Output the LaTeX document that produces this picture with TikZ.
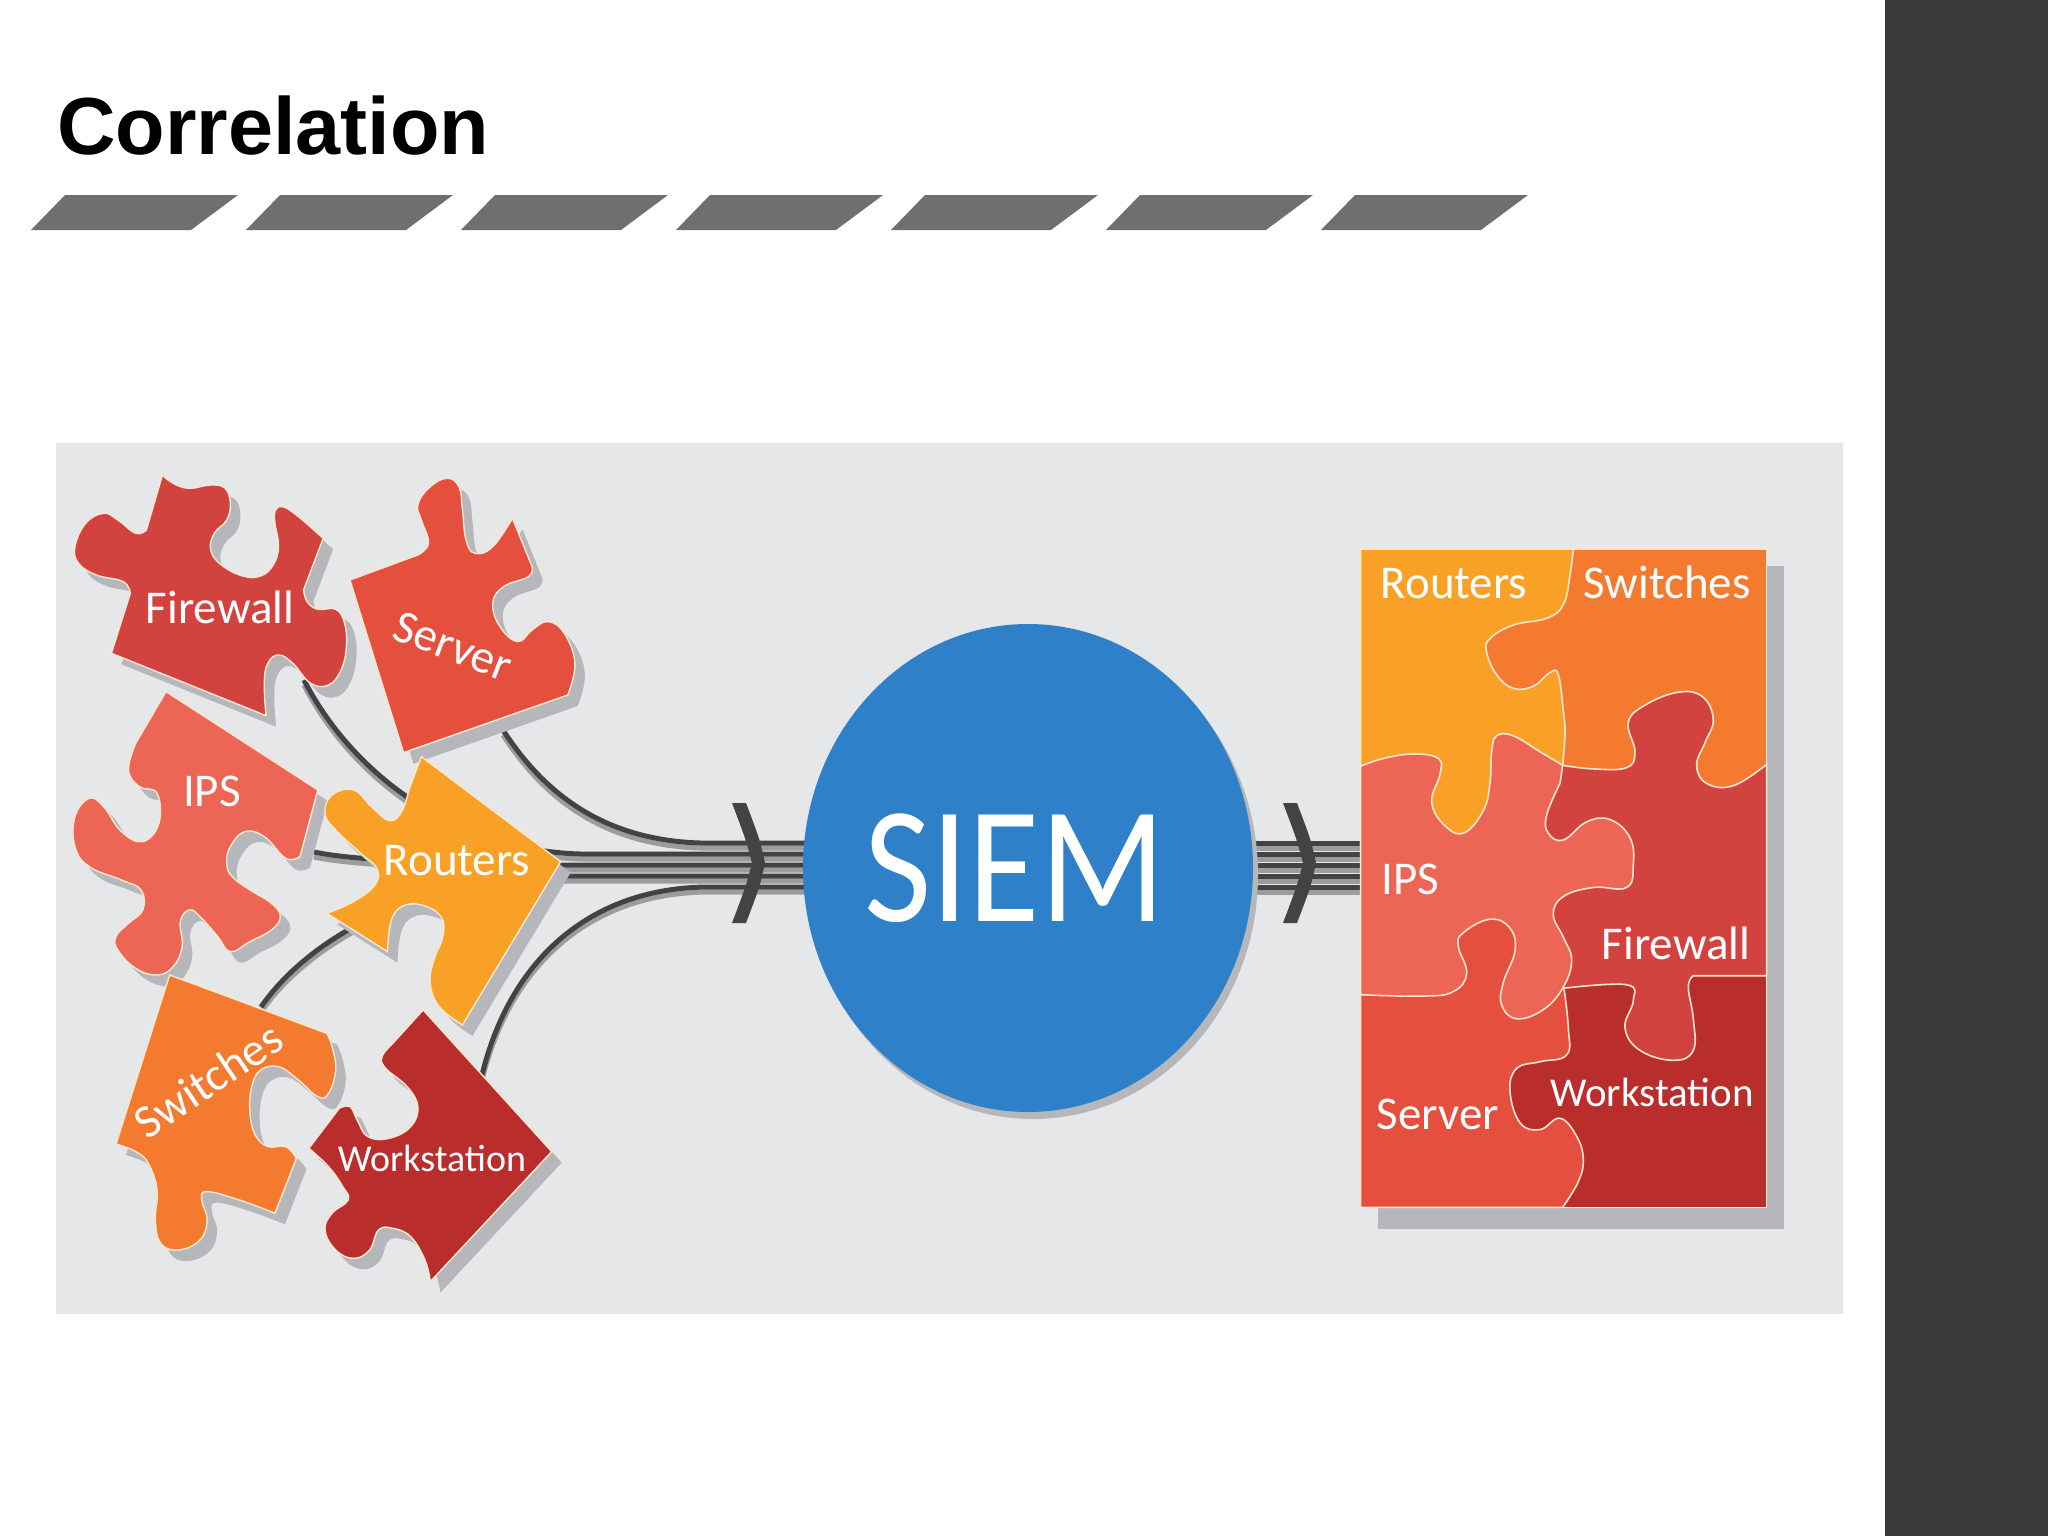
\documentclass[tikz,border=0pt]{standalone}
\usepackage{fontspec}
\setmainfont{Carlito}
\newfontfamily\titlefont{Liberation Sans}
\usetikzlibrary{shapes.geometric}
\definecolor{firered}{HTML}{D2433F}
\definecolor{serverred}{HTML}{E54F3D}
\definecolor{ipsred}{HTML}{EC6555}
\definecolor{routerorange}{HTML}{F9A127}
\definecolor{switchorange}{HTML}{F47A30}
\definecolor{workred}{HTML}{B92D2C}
\definecolor{shadowgray}{HTML}{B5B7BA}
\definecolor{panelgray}{HTML}{E6E7E8}
\definecolor{sidebargray}{HTML}{3A393B}
\definecolor{slantgray}{HTML}{6F6F71}
\definecolor{edgepale}{HTML}{FFE6CF}
\definecolor{siemblue}{HTML}{2E80C8}
\definecolor{wiredark}{HTML}{434346}
\tikzstyle{puzzle} = [draw=edgepale, line width=1.4pt, preaction={fill=shadowgray, draw=none, transform canvas={shift={(10pt,-11pt)}}}]
\tikzstyle{joined} = [draw=edgepale, line width=1.6pt]
\tikzstyle{label} = [text=white, inner sep=0pt]
\tikzstyle{wire} = [draw=wiredark, line width=5pt, preaction={draw=shadowgray!85!black, line width=5pt, transform canvas={yshift=-5pt}}]
\tikzstyle{upperframe} = [xshift=50pt, yshift=-450pt, x=0.3571pt, y=-0.3333pt]
\tikzstyle{lowerframe} = [xshift=50pt, yshift=-860pt, x=0.3571pt, y=-0.3333pt]
\tikzstyle{boxframe} = [xshift=1340pt, yshift=-530pt, x=0.3333pt, y=-0.4525pt]
\begin{document}
\begin{tikzpicture}[x=1pt, y=-1pt]
        \useasboundingbox (0,0) rectangle (2048,1536);
        \fill[white] (0,0) rectangle (2048,1536);
        \fill[sidebargray] (1885,0) rectangle (2048,1536);
        \fill[panelgray] (56,443) rectangle (1843,1314);

        \node (title) [anchor=base west, inner sep=0pt, font=\titlefont\bfseries\fontsize{81}{81}\selectfont] at (57,155) {Correlation};
        \foreach \i in {0,...,6}
                \fill[slantgray] ({31+215*\i},230) -- ({65+215*\i},195) -- ({238+215*\i},195) -- ({191+215*\i},230) -- cycle;

        % wire ends
        \foreach \i/\yy in {1/843,2/854,3/865,4/876,5/887} {
                \coordinate (hub\i) at (1028,\yy);
                \coordinate (out\i) at (1362,\yy);
                \draw[wire] (hub\i) -- (out\i);
        }
        \coordinate (fwtail) at (304,680);
        \coordinate (srvtail) at (503,730);
        \coordinate (ipstail) at (314,852);
        \coordinate (swtail) at (261,1007);
        \coordinate (wktail) at (482,1075);

        \draw[wire] (srvtail) .. controls (545,795) and (605,840) .. (700,843) -- (hub1);
        \draw[wire] (fwtail) .. controls (350,770) and (450,850) .. (580,854) -- (hub2);
        \draw[wire] (ipstail) .. controls (350,860) and (450,865) .. (560,865) -- (hub3);
        \draw[wire] (swtail) .. controls (300,950) and (400,876) .. (570,876) -- (hub4);
        \draw[wire] (wktail) .. controls (510,960) and (590,887) .. (710,887) -- (hub5);

        \foreach \cx in {732,1283}
                \fill[wiredark] (\cx,803) -- ({\cx+14},803) .. controls ({\cx+28},840) .. ({\cx+33},863) .. controls ({\cx+28},886) .. ({\cx+14},923) -- (\cx,923) .. controls ({\cx+14},886) .. ({\cx+20},863) .. controls ({\cx+14},840) .. cycle;

        % loose pieces
        \begin{scope}[upperframe]
                \draw[puzzle, fill=firered] plot[smooth, tension=0.7] coordinates {(315,75) (345,100) (390,115) (450,105) (490,115) (505,160) (495,210) (460,250) (450,300) (480,345) (540,378) (590,378) (625,345) (640,290) (630,220) (630,185) (650,170) (690,195) (765,265)} -- plot[smooth, tension=0.7] coordinates {(710,420) (720,455) (750,478) (800,478) (825,520) (830,590) (815,660) (780,705) (730,700) (680,640) (640,615) (610,640) (600,700) (605,797)} -- (172,610) -- plot[smooth, tension=0.7] coordinates {(225,430) (205,395) (130,375) (80,340) (70,290) (100,220) (150,190) (190,210) (240,250) (270,240)} -- cycle;

                \draw[puzzle, fill=serverred] (840,390) -- plot[smooth, tension=0.7] coordinates {(1030,315) (1060,280) (1040,210) (1030,165) (1060,115) (1110,85) (1145,110) (1155,180) (1165,270) (1190,310) (1240,290) (1295,205)} -- plot[smooth, tension=0.7] coordinates {(1350,350) (1340,380) (1270,410) (1240,460) (1260,530) (1310,575) (1350,540) (1395,515) (1440,550) (1470,640) (1450,735)} -- (990,908) -- cycle;

                \draw[puzzle, fill=ipsred] (325,725) -- (750,1020) -- plot[smooth, tension=0.7] coordinates {(700,1220) (660,1225) (600,1160) (545,1145) (505,1190) (495,1240) (510,1280) (560,1320) (620,1360) (645,1400) (620,1440) (560,1475) (505,1505) (470,1460) (420,1400) (390,1380) (365,1415) (370,1490) (345,1550) (300,1575) (240,1555) (190,1500) (185,1460) (220,1420) (260,1380) (255,1320) (200,1290) (110,1250) (70,1190) (70,1100) (110,1045) (150,1070) (200,1145) (260,1175) (305,1120) (300,1030) (250,1010) (220,960) (240,880)} -- cycle;

                \draw[puzzle, fill=routerorange] (1040,920) -- (1430,1235) -- plot[smooth, tension=0.7] coordinates {(1155,1725) (1090,1670) (1065,1600) (1075,1530) (1100,1460) (1095,1400) (1040,1365) (985,1370) (955,1415) (945,1505)} -- plot[smooth, tension=0.7] coordinates {(775,1390) (850,1355) (910,1305) (915,1255) (870,1210) (800,1140) (770,1090) (790,1035) (850,1020) (900,1070) (950,1112) (985,1085) (1005,1020)} -- cycle;
        \end{scope}
        \begin{scope}[lowerframe]
                \draw[puzzle, fill=switchorange] (335,345) -- plot[smooth, tension=0.7] coordinates {(775,520) (790,560) (800,630) (780,700) (750,710) (690,655) (640,620) (590,630) (565,680) (560,760) (575,825) (610,860) (660,860) (690,895)} -- plot[smooth, tension=0.7] coordinates {(630,1060) (530,1020) (440,995) (425,1020) (440,1080) (420,1140) (360,1170) (310,1150) (295,1080) (300,990) (275,910) (240,875) (185,852)} -- cycle;

                \draw[puzzle, fill=workred] (1045,450) -- (1405,875) -- plot[smooth, tension=0.7] coordinates {(1065,1265) (1050,1200) (1010,1130) (960,1105) (920,1110) (895,1170) (850,1195) (800,1170) (770,1110) (790,1060) (835,1020) (820,980) (780,920) (725,865)} -- plot[smooth, tension=0.7] coordinates {(810,745) (840,740) (860,780) (890,830) (950,835) (1010,800) (1030,740) (1000,680) (940,625) (930,590) (960,550)} -- cycle;
        \end{scope}

        \node (firewall) [label, font=\fontsize{47}{47}\selectfont] at (220,607) {Firewall};
        \node (server) [label, rotate=-21, font=\fontsize{47}{47}\selectfont] at (453,646) {Server};
        \node (ips) [label, font=\fontsize{47}{47}\selectfont] at (212,791) {IPS};
        \node (routers) [label, font=\fontsize{47}{47}\selectfont] at (457,861) {Routers};
        \node (switches) [label, rotate=34, font=\fontsize{47}{47}\selectfont] at (208,1080) {Switches};
        \node (workstation) [label, font=\fontsize{38}{38}\selectfont] at (432,1158) {Workstation};

        % centre
        \node (siem) [ellipse, fill=siemblue, inner sep=0pt, minimum width=450pt, minimum height=488pt, preaction={fill=shadowgray, transform canvas={shift={(5pt,-7pt)}}}] at (1028,868) {};
        \node (siemlabel) [label, xscale=0.88, transform shape, font=\fontsize{166}{166}\selectfont] at (1015,868) {SIEM};

        % assembled puzzle
        \fill[shadowgray] (1378,566) rectangle (1784,1229);
        \begin{scope}[boxframe]
                \fill[workred] (450,985) rectangle (1280,1497);
                \fill[switchorange] (400,42) rectangle (1280,600);
                \draw[joined, fill=firered] plot[smooth, tension=0.7] coordinates {(668,520) (760,528) (860,525) (885,490) (865,425) (920,385) (1020,358) (1090,370) (1120,420) (1095,470) (1070,520) (1100,560) (1180,565) (1280,518)} -- (1280,985) -- plot[smooth, tension=0.7] coordinates {(1060,985) (1045,1010) (1060,1080) (1060,1150) (1000,1172) (900,1150) (855,1100) (880,1040) (860,1005) (680,1012)} -- (600,1012) -- (600,520) -- cycle;
                \draw[joined, fill=serverred] (62,850) -- (540,850) -- (580,1000) -- plot[smooth, tension=0.7] coordinates {(672,1012) (685,1100) (680,1160) (600,1175) (530,1190) (510,1240) (540,1310) (600,1325) (660,1300) (710,1340) (730,1390) (715,1440) (668,1497)} -- (62,1497) -- cycle;
                \draw[joined, fill=routerorange] (62,42) -- plot[smooth, tension=0.7] coordinates {(700,42) (690,100) (670,165) (620,195) (520,210) (450,240) (440,270) (470,320) (520,350) (580,345) (630,315) (655,320) (670,400) (675,450) (668,520)} -- (460,500) -- (460,680) -- (62,700) -- cycle;
                \draw[joined, fill=ipsred] plot[smooth, tension=0.7] coordinates {(62,522) (130,505) (220,495) (295,505) (300,540) (275,600) (310,650) (370,670) (430,620) (450,560) (455,490) (470,455) (520,455) (600,490) (668,520)} -- plot[smooth, tension=0.7] coordinates {(660,560) (620,630) (625,670) (670,685) (740,645) (810,640) (870,680) (880,740) (860,790) (760,790) (670,810) (640,850) (670,900) (695,950) (670,1010) (610,1060) (530,1080) (485,1050) (490,1000) (525,930) (510,880) (450,860) (370,890) (355,920) (380,980) (340,1020) (250,1030) (62,1027)} -- cycle;
                \draw[joined] (62,42) rectangle (1280,1497);
        \end{scope}

        \node (routersr) [label, font=\fontsize{47}{47}\selectfont] at (1454,584) {Routers};
        \node (switchesr) [label, font=\fontsize{47}{47}\selectfont] at (1667,582) {Switches};
        \node (ipsr) [label, font=\fontsize{47}{47}\selectfont] at (1410,879) {IPS};
        \node (firewallr) [label, font=\fontsize{47}{47}\selectfont] at (1676,943) {Firewall};
        \node (serverr) [label, font=\fontsize{47}{47}\selectfont] at (1438,1114) {Server};
        \node (workstationr) [label, font=\fontsize{41}{41}\selectfont] at (1652,1092) {Workstation};
\end{tikzpicture}
\end{document}
